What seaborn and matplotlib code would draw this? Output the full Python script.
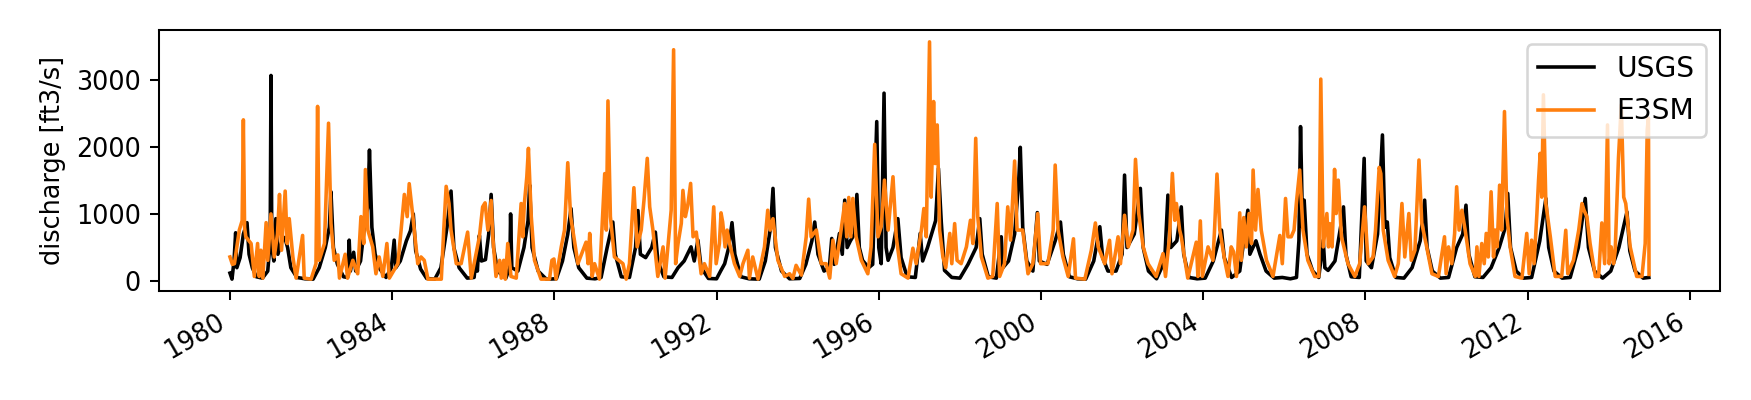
import pandas as pd
import matplotlib
matplotlib.use("Agg")
import matplotlib.pyplot as plt
import matplotlib.dates as mdates
import seaborn as sns

# ------------------------------
# Discharge (decimal year, ft3/s)
# ------------------------------
usgs_points = [
    (1980.00, 120), (1980.05, 30), (1980.10, 300), (1980.14, 720), (1980.17, 200), (1980.25, 350),
    (1980.33, 700), (1980.42, 870), (1980.47, 400), (1980.55, 200), (1980.65, 65), (1980.80, 45),
    (1980.93, 150), (1980.99, 600), (1981.01, 3060), (1981.03, 500), (1981.08, 300), (1981.13, 930),
    (1981.18, 400), (1981.28, 600), (1981.35, 650), (1981.42, 500), (1981.50, 200), (1981.65, 55),
    (1981.85, 35), (1982.05, 30), (1982.20, 200), (1982.35, 500), (1982.45, 800), (1982.49, 1330),
    (1982.55, 500), (1982.65, 250), (1982.80, 65), (1982.90, 55), (1982.94, 610), (1982.97, 150),
    (1983.05, 430), (1983.10, 150), (1983.22, 300), (1983.33, 900), (1983.40, 1100), (1983.44, 1950),
    (1983.50, 800), (1983.58, 400), (1983.70, 180), (1983.85, 55), (1983.98, 200), (1984.05, 610),
    (1984.09, 200), (1984.20, 300), (1984.35, 600), (1984.45, 750), (1984.52, 1000), (1984.58, 450),
    (1984.70, 180), (1984.85, 40), (1985.05, 30), (1985.20, 200), (1985.35, 800), (1985.45, 1340),
    (1985.52, 500), (1985.65, 200), (1985.85, 45), (1986.02, 55), (1986.07, 360), (1986.10, 150),
    (1986.15, 680), (1986.20, 300), (1986.30, 320), (1986.38, 700), (1986.44, 1290), (1986.50, 500),
    (1986.60, 150), (1986.80, 40), (1986.90, 200), (1986.92, 1000), (1986.95, 200), (1987.10, 150),
    (1987.25, 500), (1987.35, 900), (1987.39, 1430), (1987.45, 500), (1987.60, 150), (1987.80, 30),
    (1988.05, 35), (1988.20, 300), (1988.33, 700), (1988.41, 1080), (1988.48, 500), (1988.60, 200),
    (1988.80, 45), (1989.00, 35), (1989.15, 55), (1989.30, 500), (1989.44, 880), (1989.50, 400),
    (1989.65, 65), (1989.85, 55), (1990.00, 500), (1990.06, 1050), (1990.12, 400), (1990.25, 350),
    (1990.40, 500), (1990.49, 730), (1990.55, 300), (1990.70, 65), (1990.90, 55), (1991.05, 200),
    (1991.20, 300), (1991.37, 510), (1991.45, 300), (1991.54, 610), (1991.62, 200), (1991.80, 40),
    (1992.00, 35), (1992.10, 150), (1992.20, 260), (1992.30, 500), (1992.38, 870), (1992.45, 400),
    (1992.60, 65), (1992.80, 35), (1993.05, 30), (1993.20, 300), (1993.33, 800), (1993.39, 1380),
    (1993.45, 500), (1993.60, 150), (1993.80, 35), (1994.05, 40), (1994.20, 250), (1994.35, 600),
    (1994.42, 880), (1994.50, 400), (1994.65, 150), (1994.78, 200), (1994.84, 635), (1994.90, 250),
    (1995.03, 710), (1995.10, 400), (1995.16, 1205), (1995.22, 500), (1995.30, 600), (1995.40, 700),
    (1995.46, 1290), (1995.52, 500), (1995.60, 310), (1995.75, 200), (1995.85, 250), (1995.95, 2374),
    (1996.00, 500), (1996.06, 260), (1996.13, 2797), (1996.18, 500), (1996.23, 310), (1996.35, 500),
    (1996.47, 930), (1996.55, 350), (1996.70, 65), (1996.90, 55), (1997.02, 710), (1997.08, 300),
    (1997.20, 500), (1997.30, 700), (1997.40, 900), (1997.47, 1677), (1997.54, 880), (1997.62, 160),
    (1997.80, 55), (1998.00, 45), (1998.20, 250), (1998.40, 500), (1998.49, 930), (1998.55, 400),
    (1998.70, 65), (1998.90, 45), (1999.02, 660), (1999.06, 200), (1999.20, 300), (1999.35, 700),
    (1999.45, 1480), (1999.49, 1991), (1999.55, 800), (1999.65, 300), (1999.80, 150), (1999.91, 1020),
    (1999.96, 300), (2000.15, 250), (2000.35, 600), (2000.48, 880), (2000.55, 400), (2000.70, 65),
    (2000.90, 35), (2001.10, 30), (2001.30, 300), (2001.45, 810), (2001.52, 350), (2001.65, 150),
    (2001.85, 150), (2002.00, 400), (2002.06, 1578), (2002.12, 500), (2002.30, 700), (2002.45, 1380),
    (2002.52, 500), (2002.65, 150), (2002.85, 35), (2003.05, 300), (2003.13, 1280), (2003.20, 500),
    (2003.35, 600), (2003.46, 1105), (2003.52, 400), (2003.65, 55), (2003.85, 35), (2004.05, 45),
    (2004.25, 300), (2004.45, 760), (2004.52, 350), (2004.70, 55), (2004.90, 150), (2005.10, 1055),
    (2005.15, 400), (2005.30, 600), (2005.40, 400), (2005.55, 150), (2005.75, 45), (2005.95, 55),
    (2006.15, 35), (2006.30, 55), (2006.36, 600), (2006.40, 2299), (2006.45, 800), (2006.49, 1205),
    (2006.56, 400), (2006.70, 150), (2006.85, 55), (2006.96, 610), (2007.00, 200), (2007.08, 160),
    (2007.25, 300), (2007.39, 810), (2007.46, 1105), (2007.52, 400), (2007.65, 65), (2007.85, 55),
    (2007.97, 1827), (2008.02, 300), (2008.15, 200), (2008.30, 700), (2008.42, 2175), (2008.48, 800),
    (2008.54, 880), (2008.60, 350), (2008.75, 55), (2008.95, 45), (2009.15, 200), (2009.35, 600),
    (2009.46, 1205), (2009.52, 500), (2009.65, 150), (2009.85, 45), (2010.05, 55), (2010.25, 500),
    (2010.40, 700), (2010.48, 1130), (2010.55, 400), (2010.70, 65), (2010.90, 55), (2011.10, 200),
    (2011.30, 500), (2011.45, 800), (2011.51, 1305), (2011.58, 500), (2011.72, 150), (2011.90, 45),
    (2012.10, 55), (2012.30, 600), (2012.45, 1230), (2012.52, 500), (2012.65, 150), (2012.85, 45),
    (2013.05, 55), (2013.25, 500), (2013.42, 1230), (2013.50, 500), (2013.65, 150), (2013.85, 45),
    (2014.05, 150), (2014.25, 500), (2014.45, 1030), (2014.52, 450), (2014.65, 150), (2014.85, 45),
    (2014.99, 55),
]

e3sm_points = [
    (1980.00, 360), (1980.06, 250), (1980.11, 260), (1980.23, 760), (1980.30, 900), (1980.33, 2400),
    (1980.36, 800), (1980.39, 660), (1980.52, 560), (1980.60, 70), (1980.68, 560), (1980.72, 70),
    (1980.76, 460), (1980.81, 45), (1980.89, 870), (1980.93, 310), (1981.01, 1000), (1981.09, 360),
    (1981.17, 700), (1981.22, 1290), (1981.27, 460), (1981.36, 1340), (1981.41, 560), (1981.46, 930),
    (1981.55, 360), (1981.63, 45), (1981.79, 680), (1981.83, 45), (1982.00, 30), (1982.12, 260),
    (1982.16, 2600), (1982.20, 310), (1982.33, 560), (1982.39, 1650), (1982.43, 2350), (1982.49, 860),
    (1982.57, 310), (1982.66, 390), (1982.70, 45), (1982.84, 400), (1982.90, 45), (1983.03, 310),
    (1983.15, 110), (1983.23, 960), (1983.30, 560), (1983.34, 1660), (1983.40, 760), (1983.52, 510),
    (1983.60, 110), (1983.68, 360), (1983.77, 70), (1983.87, 560), (1983.93, 45), (1984.14, 260),
    (1984.22, 760), (1984.30, 1290), (1984.37, 960), (1984.42, 1450), (1984.51, 960), (1984.63, 260),
    (1984.71, 360), (1984.79, 310), (1984.88, 30), (1985.21, 30), (1985.27, 760), (1985.33, 1410),
    (1985.40, 1155), (1985.45, 760), (1985.58, 260), (1985.70, 260), (1985.86, 730), (1985.95, 45),
    (1986.15, 660), (1986.23, 1105), (1986.29, 1165), (1986.36, 760), (1986.44, 1200), (1986.48, 660),
    (1986.56, 70), (1986.65, 310), (1986.69, 45), (1986.75, 310), (1986.79, 30), (1986.85, 560),
    (1986.93, 70), (1987.06, 45), (1987.18, 1155), (1987.22, 660), (1987.26, 1155), (1987.32, 1550),
    (1987.36, 1976), (1987.43, 960), (1987.51, 310), (1987.67, 30), (1987.88, 30), (1987.94, 310),
    (1987.99, 330), (1988.04, 30), (1988.17, 510), (1988.25, 760), (1988.33, 1762), (1988.40, 960),
    (1988.48, 660), (1988.58, 260), (1988.78, 580), (1988.83, 260), (1988.87, 710), (1988.93, 70),
    (1988.99, 260), (1989.11, 30), (1989.24, 1600), (1989.28, 760), (1989.32, 2682), (1989.38, 960),
    (1989.48, 360), (1989.69, 260), (1989.77, 30), (1989.85, 260), (1989.96, 1390), (1990.04, 510),
    (1990.14, 760), (1990.21, 1210), (1990.29, 1827), (1990.35, 1105), (1990.43, 760), (1990.55, 70),
    (1990.68, 510), (1990.73, 45), (1990.80, 510), (1990.88, 1055), (1990.94, 3443), (1990.99, 260),
    (1991.05, 560), (1991.13, 860), (1991.17, 1350), (1991.23, 960), (1991.29, 1130), (1991.36, 1454),
    (1991.42, 660), (1991.50, 730), (1991.62, 110), (1991.70, 260), (1991.83, 70), (1991.93, 1105),
    (1991.99, 260), (1992.07, 560), (1992.11, 1016), (1992.15, 880), (1992.21, 510), (1992.26, 760),
    (1992.32, 560), (1992.44, 260), (1992.57, 70), (1992.65, 260), (1992.77, 460), (1992.81, 45),
    (1992.89, 360), (1993.02, 30), (1993.18, 510), (1993.26, 1055), (1993.32, 760), (1993.39, 930),
    (1993.51, 310), (1993.68, 70), (1993.80, 110), (1993.88, 40), (1993.96, 235), (1994.09, 90),
    (1994.21, 660), (1994.27, 1220), (1994.33, 660), (1994.46, 760), (1994.58, 260), (1994.70, 260),
    (1994.79, 45), (1994.87, 610), (1994.95, 260), (1995.07, 760), (1995.16, 1155), (1995.21, 660),
    (1995.26, 1245), (1995.31, 660), (1995.36, 1230), (1995.44, 660), (1995.57, 310), (1995.73, 110),
    (1995.81, 510), (1995.90, 2036), (1995.98, 660), (1996.06, 810), (1996.14, 1503), (1996.23, 760),
    (1996.35, 1553), (1996.43, 660), (1996.55, 110), (1996.72, 45), (1996.84, 490), (1996.92, 260),
    (1997.05, 760), (1997.11, 1080), (1997.17, 660), (1997.25, 3560), (1997.29, 1250), (1997.35, 2672),
    (1997.39, 1750), (1997.44, 2324), (1997.50, 760), (1997.58, 360), (1997.65, 200), (1997.75, 710),
    (1997.80, 260), (1997.87, 856), (1997.93, 310), (1998.03, 260), (1998.16, 510), (1998.26, 906),
    (1998.32, 560), (1998.39, 2125), (1998.44, 960), (1998.53, 360), (1998.69, 45), (1998.81, 70),
    (1998.92, 1155), (1998.98, 70), (1999.10, 260), (1999.18, 1105), (1999.25, 610), (1999.35, 1787),
    (1999.41, 760), (1999.55, 760), (1999.68, 110), (1999.80, 260), (1999.92, 1006), (1999.99, 260),
    (2000.17, 260), (2000.30, 760), (2000.35, 1727), (2000.42, 760), (2000.54, 360), (2000.67, 70),
    (2000.80, 630), (2000.85, 45), (2001.08, 30), (2001.24, 460), (2001.34, 866), (2001.41, 510),
    (2001.57, 260), (2001.69, 608), (2001.75, 110), (2001.90, 660), (2001.96, 260), (2002.06, 980),
    (2002.15, 510), (2002.27, 760), (2002.33, 1812), (2002.41, 1006), (2002.52, 510), (2002.64, 260),
    (2002.84, 70), (2003.01, 410), (2003.07, 70), (2003.17, 660), (2003.24, 1603), (2003.30, 906),
    (2003.34, 1155), (2003.42, 760), (2003.46, 660), (2003.62, 45), (2003.83, 580), (2003.87, 70),
    (2003.93, 896), (2003.98, 70), (2004.12, 510), (2004.24, 310), (2004.28, 760), (2004.34, 1593),
    (2004.41, 760), (2004.53, 310), (2004.61, 70), (2004.69, 510), (2004.75, 435), (2004.82, 70),
    (2004.90, 1016), (2004.94, 310), (2005.00, 946), (2005.06, 510), (2005.13, 1006), (2005.19, 560),
    (2005.23, 1653), (2005.29, 760), (2005.35, 1364), (2005.43, 760), (2005.56, 310), (2005.72, 70),
    (2005.89, 680), (2005.95, 260), (2006.03, 1230), (2006.09, 660), (2006.17, 660), (2006.24, 760),
    (2006.30, 1180), (2006.38, 1653), (2006.46, 760), (2006.58, 310), (2006.75, 70), (2006.85, 70),
    (2006.90, 3006), (2006.96, 510), (2007.05, 1006), (2007.09, 510), (2007.12, 856), (2007.18, 510),
    (2007.24, 1663), (2007.28, 1006), (2007.33, 1503), (2007.41, 660), (2007.57, 260), (2007.74, 70),
    (2007.86, 260), (2007.98, 1105), (2008.07, 260), (2008.19, 360), (2008.25, 760), (2008.34, 1693),
    (2008.38, 1600), (2008.44, 760), (2008.56, 310), (2008.72, 70), (2008.81, 260), (2008.90, 1155),
    (2008.97, 360), (2009.07, 1006), (2009.13, 310), (2009.22, 460), (2009.32, 1802), (2009.39, 860),
    (2009.51, 510), (2009.64, 110), (2009.80, 70), (2009.95, 660), (2009.99, 110), (2010.05, 510),
    (2010.13, 260), (2010.20, 710), (2010.25, 1404), (2010.31, 760), (2010.38, 1055), (2010.46, 760),
    (2010.58, 260), (2010.71, 70), (2010.75, 510), (2010.80, 70), (2010.87, 560), (2010.93, 260),
    (2010.98, 710), (2011.03, 360), (2011.10, 1329), (2011.16, 360), (2011.20, 760), (2011.25, 510),
    (2011.31, 1428), (2011.36, 760), (2011.43, 2523), (2011.49, 960), (2011.57, 510), (2011.69, 70),
    (2011.86, 45), (2011.98, 710), (2012.04, 110), (2012.10, 610), (2012.16, 260), (2012.23, 1006),
    (2012.27, 1500), (2012.31, 1901), (2012.35, 1250), (2012.39, 2772), (2012.45, 1155), (2012.56, 660),
    (2012.68, 70), (2012.84, 70), (2012.94, 757), (2012.99, 110), (2013.13, 310), (2013.26, 760),
    (2013.34, 1155), (2013.39, 1055), (2013.46, 960), (2013.54, 560), (2013.67, 70), (2013.75, 70),
    (2013.83, 866), (2013.90, 260), (2013.97, 2324), (2014.01, 260), (2014.06, 510), (2014.12, 260),
    (2014.16, 460), (2014.24, 1827), (2014.31, 2623), (2014.37, 1250), (2014.42, 1155), (2014.53, 510),
    (2014.69, 70), (2014.82, 70), (2014.90, 560), (2014.95, 2250), (2014.98, 2424), (2014.995, 100),
]

series_labels = ["USGS", "E3SM"]
series_colors = ["black", "#ff7f0e"]


def decimal_year_to_date(t):
    year = int(t)
    start = pd.Timestamp(year, 1, 1)
    end = pd.Timestamp(year + 1, 1, 1)
    return start + (end - start) * (t - year)


def to_frame(points):
    return pd.DataFrame({
        "date": [decimal_year_to_date(t) for t, _ in points],
        "discharge": [q for _, q in points],
    })


usgs = to_frame(usgs_points)
e3sm = to_frame(e3sm_points)

# ------------------------------
# Plot
# ------------------------------
dpi = 184
fig, ax = plt.subplots(figsize=(1751 / dpi, 400 / dpi), dpi=dpi)
fig.subplots_adjust(left=159 / 1751, right=1720 / 1751, top=1 - 30 / 400, bottom=1 - 291 / 400)

for df, label, color in zip([usgs, e3sm], series_labels, series_colors):
    sns.lineplot(data=df, x="date", y="discharge", color=color, linewidth=1.4,
                 label=label, estimator=None, ax=ax)

ax.xaxis.set_major_locator(mdates.YearLocator(4))
ax.xaxis.set_major_formatter(mdates.DateFormatter("%Y"))
plt.setp(ax.get_xticklabels(), rotation=30, ha="right")
ax.set_xlabel("")
ax.set_ylabel("discharge [ft3/s]")
ax.legend(loc="upper right", fontsize=11)

fig.savefig("out.png", dpi=dpi)
